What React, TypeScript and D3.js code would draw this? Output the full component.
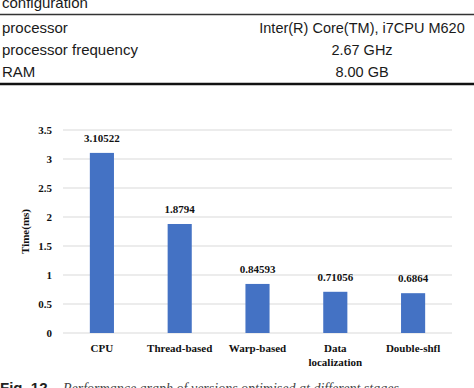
import React from 'react';
import * as d3 from 'd3';

// hardware table
const tableHeader = 'configuration';
const tableRows: [string, string][] = [
  ['processor', 'Inter(R) Core(TM), i7CPU M620'],
  ['processor frequency', '2.67 GHz'],
  ['RAM', '8.00 GB'],
];

// chart data
const categories = ['CPU', 'Thread-based', 'Warp-based', 'Data\nlocalization', 'Double-shfl'];
const times = [3.10522, 1.8794, 0.84593, 0.71056, 0.6864];
const valueLabels = ['3.10522', '1.8794', '0.84593', '0.71056', '0.6864'];
const yTicks = [0, 0.5, 1, 1.5, 2, 2.5, 3, 3.5];

const W = 474;
const H = 388;
const margin = { top: 130, right: 22, bottom: 55, left: 63 };

const App: React.FC = () => {
  const x = d3.scaleBand<string>()
    .domain(categories)
    .range([margin.left, W - margin.right])
    .paddingInner(0.69)
    .paddingOuter(0.345);

  const y = d3.scaleLinear()
    .domain([0, 3.5])
    .range([H - margin.bottom, margin.top]);

  const serif = '"Liberation Serif", "Times New Roman", serif';
  const sans = '"Liberation Sans", Arial, sans-serif';

  return (
    <svg
      width={W}
      height={H}
      style={{ position: 'absolute', left: 0, top: 0, background: '#fff' }}
    >
      {/* table */}
      <g fontFamily={sans} fill="#1a1a1a">
        <text x={2} y={8} fontSize={15}>{tableHeader}</text>
        <line x1={0} x2={W} y1={14.5} y2={14.5} stroke="#333" strokeWidth={1.5} />
        {tableRows.map((r, i) => (
          <g key={r[0]}>
            <text x={2} y={33 + i * 22} fontSize={15}>{r[0]}</text>
            <text x={362} y={33 + i * 22} fontSize={14.5} textAnchor="middle">{r[1]}</text>
          </g>
        ))}
        <line x1={0} x2={W} y1={84} y2={84} stroke="#111" strokeWidth={2.5} />
      </g>

      {/* gridlines */}
      {yTicks.map(t => (
        <line
          key={t}
          x1={margin.left}
          x2={W - margin.right}
          y1={y(t)}
          y2={y(t)}
          stroke="#d9d9d9"
          strokeWidth={1.2}
        />
      ))}

      {/* y ticks */}
      <g fontFamily={serif} fontSize={11} fontWeight="bold" fill="#111">
        {yTicks.map(t => (
          <text key={t} x={52} y={y(t)} dy="0.35em" textAnchor="end">
            {d3.format('')(t)}
          </text>
        ))}
        <text
          transform={`translate(29,${(y(0) + y(3.5)) / 2}) rotate(-90)`}
          textAnchor="middle"
        >
          Time(ms)
        </text>
      </g>

      {/* bars */}
      {categories.map((c, i) => (
        <rect
          key={c}
          x={x(c)}
          y={y(times[i])}
          width={x.bandwidth()}
          height={y(0) - y(times[i])}
          fill="#4472c4"
        />
      ))}

      {/* value labels */}
      <g fontFamily={serif} fontSize={11} fontWeight="bold" fill="#111" textAnchor="middle">
        {categories.map((c, i) => (
          <text key={c} x={(x(c) as number) + x.bandwidth() / 2} y={y(times[i]) - 11}>
            {valueLabels[i]}
          </text>
        ))}
      </g>

      {/* category labels */}
      <g fontFamily={serif} fontSize={11} fontWeight="bold" fill="#111" textAnchor="middle">
        {categories.map(c => (
          <text key={c} x={(x(c) as number) + x.bandwidth() / 2} y={352}>
            {c.split('\n').map((line, j) => (
              <tspan key={j} x={(x(c) as number) + x.bandwidth() / 2} dy={j === 0 ? 0 : 14}>
                {line}
              </tspan>
            ))}
          </text>
        ))}
      </g>

      {/* caption, cut off at bottom */}
      <text x={0} y={393} fontFamily={sans} fontSize={15} fontWeight="bold" fill="#222">
        Fig. 12
      </text>
      <text x={63} y={393} fontFamily={serif} fontSize={14} fontStyle="italic" fill="#444">
        Performance graph of versions optimised at different stages
      </text>
    </svg>
  );
};

export default App;
